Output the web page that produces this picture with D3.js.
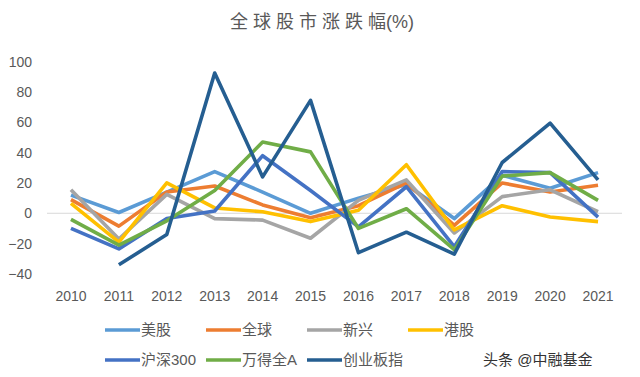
<!DOCTYPE html>
<html><head><meta charset="utf-8">
<script src="https://cdn.jsdelivr.net/npm/d3@7"></script>
<style>
body{margin:0;background:#fff;}
svg{display:block;font-family:"Liberation Sans","Noto Sans CJK SC",sans-serif;}
</style></head>
<body><svg id="c" width="640" height="377"></svg>
<script>
const years = ["2010","2011","2012","2013","2014","2015","2016","2017","2018","2019","2020","2021"];
const seriesNames = ["美股","全球","新兴","港股","沪深300","万得全A","创业板指"];
const usValues      = [12, 0.5, 14, 27.5, 14, 0, 10, 19, -3.5, 25, 16.5, 26.8];
const globalValues  = [9, -8.5, 14, 18, 5.5, -3, 5, 20, -8, 20, 14, 18.5];
const emValues      = [15.5, -17, 12.5, -3.5, -4.5, -16.5, 8.5, 22, -13, 11, 15.5, 1];
const hkValues      = [6.5, -19, 20, 3.5, 1, -5.5, 2, 32, -11, 5, -2.5, -5.5];
const csi300Values  = [-10, -23.5, -3.5, 1.5, 38, 15, -9, 17.5, -22, 27.5, 26.8, -2.5];
const windAValues   = [-4, -21, -5, 15, 47, 40.5, -10, 3, -24, 24.5, 26.8, 8.5];
const chinextValues = [null, -34, -14, 92.5, 24, 74.5, -26, -12.5, -27, 33.5, 59.5, 22];
const yTicks = [-40, -20, 0, 20, 40, 60, 80, 100];
const colors = ["#5B9BD5","#ED7D31","#A5A5A5","#FFC000","#4472C4","#70AD47","#255E91"];
const title = "全球股市涨跌幅(%)";
const watermark = "头条 @中融基金";

const allValues = [usValues, globalValues, emValues, hkValues, csi300Values, windAValues, chinextValues];
const series = seriesNames.map((n,i)=>({name:n, color:colors[i], values:allValues[i]}));

const svg = d3.select("#c");
const x = d3.scaleBand().domain(years).range([47, 622]).paddingInner(0).paddingOuter(0);
const y = d3.scaleLinear().domain([-40, 100]).range([273.9, 61.7]);
const cx = d => x(d) + x.bandwidth()/2;

// title (single text element, spaced CJK part)
const t = svg.append("text").attr("x", 230).attr("y", 28)
  .attr("font-size", 18).attr("fill", "#595959");
t.append("tspan").attr("letter-spacing", "5px").text(title.slice(0, 6));
t.append("tspan").text(title.slice(6));

// y axis labels
const yAxis = d3.axisLeft(y).tickValues(yTicks).tickSize(0).tickPadding(0);
const gy = svg.append("g").attr("transform","translate(32,0)").call(yAxis);
gy.select(".domain").remove();
gy.selectAll("text").attr("font-size", 14).attr("fill","#595959")
  .attr("font-family","Liberation Sans, sans-serif");

// zero line
svg.append("line").attr("x1", 47).attr("x2", 622).attr("y1", y(0)).attr("y2", y(0))
  .attr("stroke", "#d9d9d9").attr("stroke-width", 1);

// x axis labels
const xAxis = d3.axisBottom(x).tickSize(0).tickPadding(0);
const gx = svg.append("g").attr("transform","translate(0,290)").call(xAxis);
gx.select(".domain").remove();
gx.selectAll("text").attr("font-size", 14).attr("fill","#595959").attr("dy","0.75em")
  .attr("font-family","Liberation Sans, sans-serif");

// lines
const line = d3.line().defined(d => d.v !== null).x(d => cx(d.year)).y(d => y(d.v));
series.forEach(s => {
  svg.append("path")
    .datum(years.map((yr,i)=>({year:yr, v:s.values[i]})))
    .attr("d", line).attr("fill","none").attr("stroke", s.color)
    .attr("stroke-width", 3.6).attr("stroke-linejoin","round").attr("stroke-linecap","butt");
});

// legend
const lg = svg.append("g");
series.forEach((s,i) => {
  const row = i < 4 ? 0 : 1;
  const col = i < 4 ? i : i - 4;
  const lx = 105 + col * 101;
  const ly = row === 0 ? 330 : 360;
  lg.append("line").attr("x1", lx).attr("x2", lx + 35).attr("y1", ly).attr("y2", ly)
    .attr("stroke", s.color).attr("stroke-width", 3.6);
  lg.append("text").attr("x", lx + 36).attr("y", ly).attr("dy","0.36em")
    .attr("font-size", 15).attr("fill","#595959").text(s.name);
});

// watermark
svg.append("text").attr("x", 483).attr("y", 360).attr("dy","0.36em")
  .attr("font-size", 15).attr("fill","#333").text(watermark);
</script></body></html>
